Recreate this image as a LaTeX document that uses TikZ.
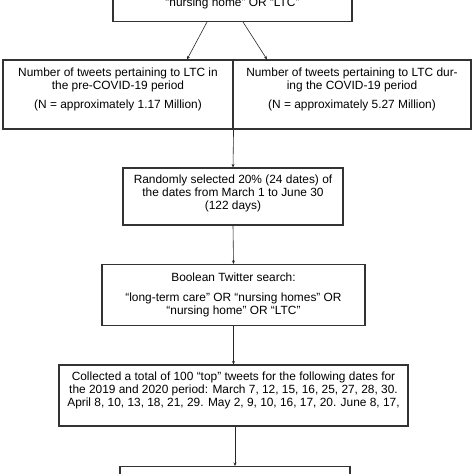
\documentclass[tikz,border=0pt]{standalone}
\usepackage{fontspec}
\setmainfont{Liberation Sans}
\usetikzlibrary{arrows.meta}

\tikzset{
  stage/.style={draw=black!80, line width=1.1pt, fill=white, align=center,
    inner sep=0pt, font=\fontsize{11.9}{13}\selectfont},
  flow/.style={draw=black!85, line width=0.6pt, -{Stealth[length=3.5pt,width=3pt]}}
}

\begin{document}
\begin{tikzpicture}[x=1pt,y=-1pt]
                \useasboundingbox (0,0) rectangle (474,474);
                \clip (0,0) rectangle (474,474);

                % Search (cut off at top)
                \node[stage, anchor=south, minimum width=239pt] (search) at (232.5,22)
                    {\mbox{}\\[20pt]“nursing home” OR “LTC”\\[2pt]\mbox{}};

                % Two periods
                \node[stage, minimum width=230pt, minimum height=69pt] (pre) at (118,94.5)
                    {Number of tweets pertaining to LTC in\\the pre-COVID-19 period\\[6pt]
                     (N = approximately 1.17 Million)\\\mbox{}};
                \node[stage, minimum width=238pt, minimum height=69pt] (post) at (352,94.5)
                    {Number of tweets pertaining to LTC dur-\\ing the COVID-19 period\\[6pt]
                     (N = approximately 5.27 Million)\\\mbox{}};

                % Sampling
                \node[stage, minimum width=220pt, minimum height=57pt] (sel) at (233,196.5)
                    {Randomly selected 20\% (24 dates) of\\the dates from March 1 to June 30\\(122 days)\\[-4pt]\mbox{}};
                \node[stage, minimum width=263pt, minimum height=61pt] (bool) at (233.5,295)
                    {Boolean Twitter search:\\[7pt]
                     “long-term care” OR “nursing homes” OR\\“nursing home” OR “LTC”};
                \node[stage, minimum width=349pt, minimum height=61pt] (coll) at (233.5,395.5)
                    {Collected a total of 100 “top” tweets for the following dates for\\
                     the 2019 and 2020 period: March 7, 12, 15, 16, 25, 27, 28, 30.\\
                     April 8, 10, 13, 18, 21, 29. May 2, 9, 10, 16, 17, 20. June 8, 17,\\\mbox{}};
                \node[stage, anchor=north, minimum width=230pt, minimum height=40pt] (final) at (235,466) {};

                % Connectors
                \draw[flow] ([xshift=-25.5pt]search.south) -- ([xshift=69pt]pre.north);
                \draw[flow] ([xshift=10.5pt]search.south) -- ([xshift=-85pt]post.north);
                \draw[flow] (pre.south east) -- (sel.north);
                \draw[flow] (sel.south) -- (bool.north);
                \draw[flow] (bool.south) -- (coll.north);
                \draw[flow] ([xshift=1.5pt]coll.south) -- (final.north);
\end{tikzpicture}
\end{document}
